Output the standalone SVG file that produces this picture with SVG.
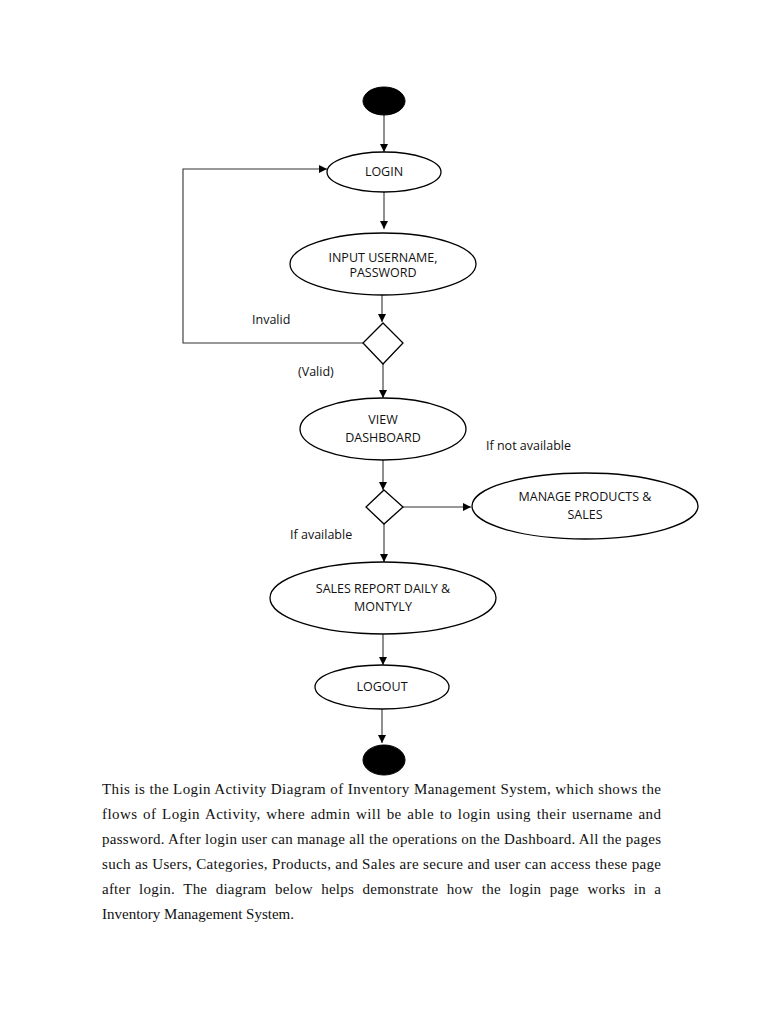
<svg xmlns="http://www.w3.org/2000/svg" width="768" height="1024" viewBox="0 0 768 1024">
<style>
.node{fill:#fff;stroke:#000;stroke-width:1.3}
.term{fill:#000;stroke:#000}
.lbl{font-family:"Open Sans","Liberation Sans",sans-serif;font-size:12.5px;fill:#111;text-anchor:middle}
.note{font-family:"Open Sans","Liberation Sans",sans-serif;font-size:12.5px;fill:#111}
.edge{fill:none;stroke:#333;stroke-width:1.1}
.para{font-family:"Liberation Serif","Times New Roman",serif;font-size:15px;fill:#111}
</style>
<defs>
<marker id="arr" viewBox="0 0 10 10" refX="10" refY="5" markerWidth="8" markerHeight="8" markerUnits="userSpaceOnUse" orient="auto">
<path d="M0,0 L10,5 L0,10 z" fill="#000"/>
</marker>
</defs>
<rect width="768" height="1024" fill="#fff"/>
<g id="connectors">
<line class="edge" x1="384" y1="115" x2="384" y2="152" marker-end="url(#arr)"/>
<line class="edge" x1="384" y1="192" x2="384" y2="229" marker-end="url(#arr)"/>
<line class="edge" x1="382" y1="295" x2="382" y2="322" marker-end="url(#arr)"/>
<polyline class="edge" points="363,343 183,343 183,169 327,169" marker-end="url(#arr)"/>
<line class="edge" x1="383" y1="364" x2="383" y2="398" marker-end="url(#arr)"/>
<line class="edge" x1="383" y1="460" x2="383" y2="490" marker-end="url(#arr)"/>
<line class="edge" x1="403" y1="507" x2="471" y2="507" marker-end="url(#arr)"/>
<line class="edge" x1="384" y1="524" x2="384" y2="562" marker-end="url(#arr)"/>
<line class="edge" x1="383" y1="634" x2="383" y2="665" marker-end="url(#arr)"/>
<line class="edge" x1="382" y1="709" x2="382" y2="743" marker-end="url(#arr)"/>
</g>
<g id="start"><ellipse class="term" cx="384" cy="101" rx="21" ry="14"/></g>
<g id="login"><ellipse class="node" cx="384" cy="172" rx="57" ry="20"/><text class="lbl" x="384" y="176">LOGIN</text></g>
<g id="input"><ellipse class="node" cx="383" cy="264" rx="93" ry="31"/><text class="lbl" x="383" y="262">INPUT USERNAME,</text><text class="lbl" x="383" y="277">PASSWORD</text></g>
<g id="decision1"><polygon class="node" points="383,323 403,343 383,364 363,343"/></g>
<g id="label-invalid"><text class="note" x="252" y="324">Invalid</text></g>
<g id="label-valid"><text class="note" x="298" y="376">(Valid)</text></g>
<g id="dashboard"><ellipse class="node" cx="383" cy="429" rx="83" ry="31"/><text class="lbl" x="383" y="424">VIEW</text><text class="lbl" x="383" y="442">DASHBOARD</text></g>
<g id="label-notavail"><text class="note" x="486" y="450">If not available</text></g>
<g id="decision2"><polygon class="node" points="384,490 403,507 384,524 366,507"/></g>
<g id="manage"><ellipse class="node" cx="585" cy="506" rx="113" ry="33"/><text class="lbl" x="585" y="501">MANAGE PRODUCTS &amp;</text><text class="lbl" x="585" y="519">SALES</text></g>
<g id="label-avail"><text class="note" x="290" y="539">If available</text></g>
<g id="salesreport"><ellipse class="node" cx="383" cy="598" rx="113" ry="36"/><text class="lbl" x="383" y="593">SALES REPORT DAILY &amp;</text><text class="lbl" x="383" y="611">MONTYLY</text></g>
<g id="logout"><ellipse class="node" cx="382" cy="687" rx="67" ry="22"/><text class="lbl" x="382" y="691">LOGOUT</text></g>
<g id="end"><ellipse class="term" cx="384" cy="760" rx="21" ry="15"/></g>
<g id="paragraph">
<text class="para" x="102" y="794" textLength="559" lengthAdjust="spacing">This is the Login Activity Diagram of Inventory Management System, which shows the</text>
<text class="para" x="102" y="819" word-spacing="1.5" textLength="559" lengthAdjust="spacing">flows of Login Activity, where admin will be able to login using their username and</text>
<text class="para" x="102" y="844" textLength="559" lengthAdjust="spacing">password. After login user can manage all the operations on the Dashboard. All the pages</text>
<text class="para" x="102" y="869" textLength="559" lengthAdjust="spacing">such as Users, Categories, Products, and Sales are secure and user can access these page</text>
<text class="para" x="102" y="894" word-spacing="4.5" textLength="559" lengthAdjust="spacing">after login. The diagram below helps demonstrate how the login page works in a</text>
<text class="para" x="102" y="919">Inventory Management System.</text>
</g>
</svg>
